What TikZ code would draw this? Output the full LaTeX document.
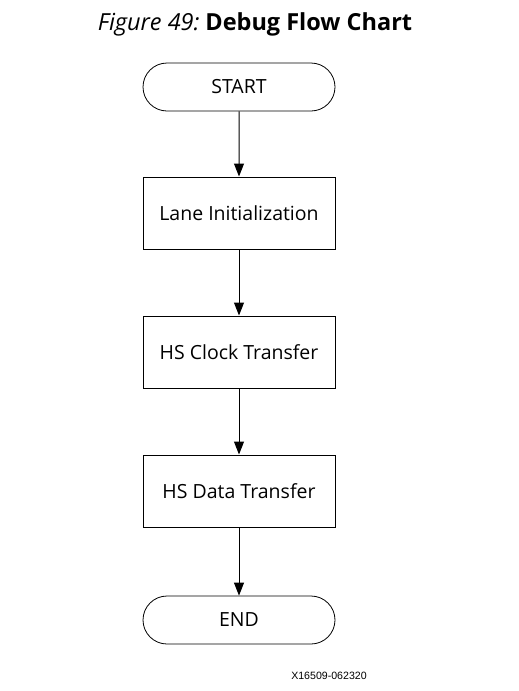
\documentclass[tikz,border=0pt]{standalone}
\usepackage{fontspec}
\setmainfont{Open Sans}
\newfontfamily\labelfont{Liberation Sans}
\usetikzlibrary{arrows.meta,shapes.misc}
\tikzset{
  procbox/.style={draw=black,line width=1pt,minimum width=192pt,minimum height=72pt,inner sep=0pt,font=\fontsize{19.5}{22}\selectfont},
  termbox/.style={draw=black,line width=0.8pt,rounded rectangle,minimum width=192pt,minimum height=48pt,inner sep=0pt,font=\fontsize{19.5}{22}\selectfont},
  flowarrow/.style={draw=black,line width=1pt,-{Triangle[length=13pt,width=10pt]}}
}
\begin{document}
\begin{tikzpicture}[x=1pt,y=-1pt]
\useasboundingbox (0,0) rectangle (519,691);
\node (title) at (255,24) {\fontsize{23.5}{26}\selectfont\textit{Figure 49:}\hspace{-0.1em} \textbf{Debug Flow Chart}};
\node[termbox] (start) at (239,87) {START};
\node[procbox] (lane) at (239,213) {Lane Initialization};
\node[procbox] (clock) at (239,352) {HS Clock Transfer};
\node[procbox] (data) at (239,491) {HS Data Transfer};
\node[termbox] (end) at (239,620) {END};
\node[font=\labelfont\fontsize{10.6}{12}\selectfont] (code) at (329,676) {X16509-062320};
\draw[flowarrow] (start) -- (lane);
\draw[flowarrow] (lane) -- (clock);
\draw[flowarrow] (clock) -- (data);
\draw[flowarrow] (data) -- (end);
\end{tikzpicture}
\end{document}
